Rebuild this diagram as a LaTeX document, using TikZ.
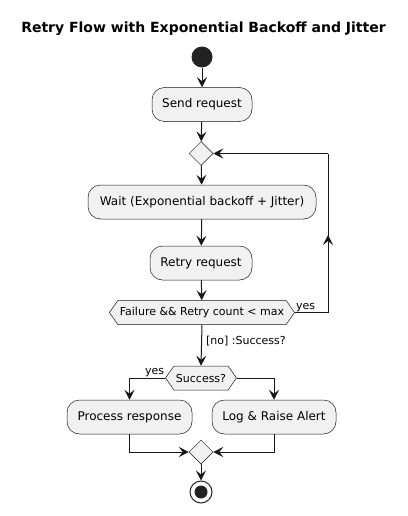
\documentclass[tikz,border=0pt]{standalone}
\usepackage{fontspec}
\setmainfont{DejaVu Sans}
\usetikzlibrary{shapes.geometric,shapes.symbols,arrows.meta}
\definecolor{boxfill}{HTML}{F1F1F1}
\definecolor{lineclr}{HTML}{181818}
\definecolor{dotclr}{HTML}{222222}
\begin{document}
\begin{tikzpicture}[x=1pt,y=-1pt,
  act/.style={draw=lineclr, line width=0.5pt, fill=boxfill, rounded corners=12.5pt, minimum height=34pt, font=\fontsize{12}{14}\selectfont, inner sep=0pt},
  hexa/.style={signal, signal to=west and east, signal pointer angle=110, draw=lineclr, line width=0.5pt, fill=boxfill, minimum height=24pt, inner xsep=2pt, inner ysep=0pt, font=\fontsize{11}{13}\selectfont},
  merge/.style={diamond, draw=lineclr, line width=0.5pt, fill=boxfill, minimum size=24pt, inner sep=0pt},
  flow/.style={draw=lineclr, line width=1pt, -{Stealth[length=10pt,width=10pt,inset=4pt]}},
  plain/.style={draw=lineclr, line width=1pt},
  lbl/.style={font=\fontsize{11}{13}\selectfont, inner sep=1pt}
]
\useasboundingbox (0,0) rectangle (407,516);
\node[font=\fontsize{14}{16}\selectfont\bfseries] (title) at (203.5,29) {Retry Flow with Exponential Backoff and Jitter};
\node[circle, fill=dotclr, minimum size=21pt, inner sep=0pt] (start) at (202,57) {};
\node[act, minimum width=100pt] (send) at (202,104.5) {Send request};
\node[merge] (m1) at (201,153.5) {};
\node[act, minimum width=228pt] (wait) at (202,202) {Wait (Exponential backoff + Jitter)};
\node[act, minimum width=102pt] (retry) at (201,263) {Retry request};
\node[hexa] (fail) at (202,312.5) {Failure \&\& Retry count < max};
\node[hexa] (succ) at (201,378) {Success?};
\node[act, minimum width=125pt] (proc) at (129.5,417) {Process response};
\node[act, minimum width=124pt] (log) at (274,417) {Log \& Raise Alert};
\node[merge] (m2) at (201,452) {};
\node[circle, draw=dotclr, line width=1pt, fill=white, minimum size=22pt, inner sep=0pt] (stop) at (201,492) {};
\node[circle, fill=dotclr, minimum size=13pt, inner sep=0pt] (stopdot) at (201,492) {};
\coordinate (lp1) at (328,312.5);
\coordinate (lp2) at (328,153.5);
\coordinate (lpmid) at (328,235);

\draw[flow] (start) -- (send);
\draw[flow] (send) -- (m1);
\draw[flow] (m1) -- (wait);
\draw[flow] (wait) -- (retry);
\draw[flow] (retry) -- (fail);
\draw[plain] (fail.east) -- (lp1) -- (lp2);
\draw[flow] (lp2) -- (m1.east);
\draw[flow] (lp1) -- (lpmid);
\node[lbl, anchor=south west] (yes1) at (fail.east) {yes};
\draw[flow] (fail.south) -- node[lbl, anchor=west, xshift=3pt, pos=0.4] (nolbl) {[no] :Success?} (succ.north);
\draw[flow] (succ.west) -| (proc.north);
\node[lbl, anchor=south east] (yes2) at (succ.west) {yes};
\draw[flow] (succ.east) -| (log.north);
\draw[flow] (proc.south) |- (m2.west);
\draw[flow] (log.south) |- (m2.east);
\draw[flow] (m2) -- (stop);
\end{tikzpicture}
\end{document}
